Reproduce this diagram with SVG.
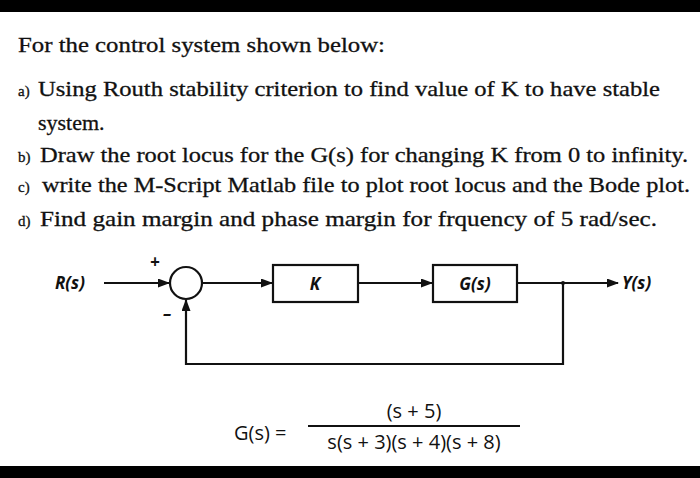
<svg xmlns="http://www.w3.org/2000/svg" width="700" height="478" viewBox="0 0 700 478">
<defs><marker id="a" markerWidth="12" markerHeight="9" refX="11" refY="4.5" orient="auto" markerUnits="userSpaceOnUse"><path d="M0,0L12,4.5L0,9z" fill="#111"/></marker></defs>
<style>.t{font-family:"Liberation Serif",serif;font-size:22px;fill:#111;stroke:#111;stroke-width:0.3}.s{font-family:"Liberation Serif",serif;font-size:15px;fill:#111;stroke:#111;stroke-width:0.3}.b{font-family:"Open Sans","Liberation Sans",sans-serif;font-size:17px;font-style:italic;font-weight:bold;fill:#111}.m{font-family:"Open Sans","Liberation Sans",sans-serif;font-size:20px;fill:#111}.l{stroke:#111;stroke-width:2.2;fill:none}</style>
<rect width="700" height="478" fill="#fff"/>
<rect width="700" height="12" fill="#000"/><rect y="466" width="700" height="12" fill="#000"/>
<text class="t" x="18" y="52" textLength="367" lengthAdjust="spacingAndGlyphs">For the control system shown below:</text>
<text class="s" x="18" y="96">a)</text><text class="t" x="38" y="96" textLength="622" lengthAdjust="spacingAndGlyphs">Using Routh stability criterion to find value of K to have stable</text>
<text class="t" x="38" y="130">system.</text>
<text class="s" x="18" y="162">b)</text><text class="t" x="40" y="162" textLength="648" lengthAdjust="spacingAndGlyphs">Draw the root locus for the G(s) for changing K from 0 to infinity.</text>
<text class="s" x="18" y="192">c)</text><text class="t" x="42" y="192" textLength="648" lengthAdjust="spacingAndGlyphs">write the M-Script Matlab file to plot root locus and the Bode plot.</text>
<text class="s" x="18" y="226">d)</text><text class="t" x="40" y="226" textLength="617" lengthAdjust="spacingAndGlyphs">Find gain margin and phase margin for frquency of  5 rad/sec.</text>
<g id="sum"><circle cx="186" cy="283" r="16" class="l"/><text class="b" x="150" y="268">+</text><text class="b" x="163" y="320">–</text></g>
<g id="R"><text class="b" x="55" y="289">R(s)</text></g>
<g id="K"><rect x="273" y="265" width="85" height="37" class="l"/><text class="b" x="315" y="290" text-anchor="middle">K</text></g>
<g id="G"><rect x="433" y="265" width="84" height="37" class="l"/><text class="b" x="475" y="290" text-anchor="middle">G(s)</text></g>
<g id="Y"><text class="b" x="622" y="289">Y(s)</text></g>
<g id="connectors">
<line x1="104" y1="283" x2="169" y2="283" class="l" marker-end="url(#a)"/>
<line x1="202" y1="283" x2="272" y2="283" class="l" marker-end="url(#a)"/>
<line x1="358" y1="283" x2="432" y2="283" class="l" marker-end="url(#a)"/>
<line x1="517" y1="283" x2="618" y2="283" class="l" marker-end="url(#a)"/>
<polyline points="563,283 563,364 186,364 186,300" class="l" marker-end="url(#a)"/>
<circle cx="563" cy="283" r="2" fill="#111"/>
</g>
<g id="formula">
<text class="m" x="234" y="440">G(s) =</text>
<text class="m" x="414" y="418" text-anchor="middle">(s + 5)</text>
<line x1="308" y1="426" x2="520" y2="426" stroke="#111" stroke-width="1.8"/>
<text class="m" x="414" y="449" text-anchor="middle">s(s + 3)(s + 4)(s + 8)</text>
</g>
</svg>
